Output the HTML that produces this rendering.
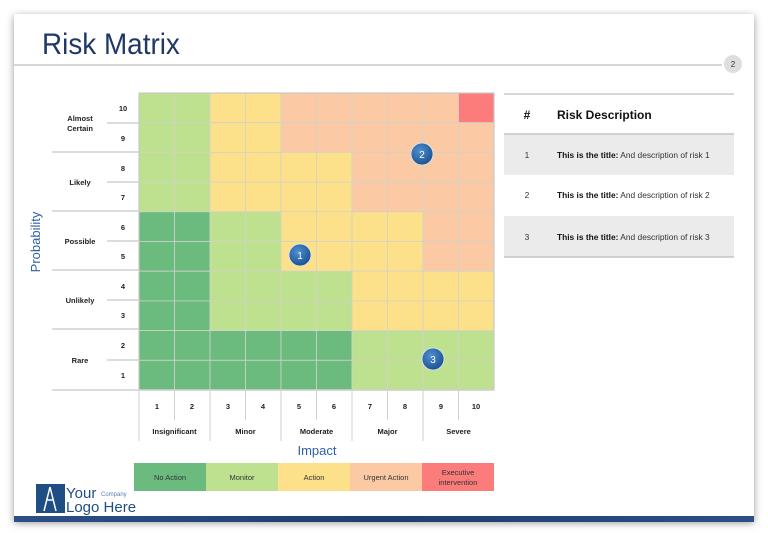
<!DOCTYPE html>
<html><head><meta charset="utf-8"><style>
body{margin:0;background:#fff;width:768px;height:533px;overflow:hidden}
svg{display:block;font-family:"Liberation Sans",sans-serif}
</style></head><body>
<svg width="768" height="533" viewBox="0 0 768 533" xmlns="http://www.w3.org/2000/svg">
<defs>
<filter id="sh" x="-5%" y="-5%" width="110%" height="110%"><feGaussianBlur stdDeviation="4"/></filter>
<radialGradient id="bg" cx="0.4" cy="0.35" r="0.7"><stop offset="0" stop-color="#4f8fd0"/><stop offset="1" stop-color="#1a4f8e"/></radialGradient>
<linearGradient id="bar" x1="0" y1="0" x2="1" y2="0"><stop offset="0" stop-color="#2c4f86"/><stop offset="0.5" stop-color="#1e3d70"/><stop offset="1" stop-color="#2c4f86"/></linearGradient>
</defs>
<rect x="0" y="0" width="768" height="533" fill="#fff"/>
<rect x="14" y="16" width="740" height="507" fill="#999" filter="url(#sh)"/>
<rect x="14" y="14" width="740" height="508" fill="#fff"/>
<rect x="14" y="516" width="740" height="6" fill="url(#bar)"/>
<text x="42" y="54" font-size="30" fill="#1f3864" transform="translate(42,0) scale(0.93,1) translate(-42,0)">Risk Matrix</text>
<line x1="14" y1="65" x2="722" y2="65" stroke="#c8c8c8" stroke-width="1.5"/>
<circle cx="733" cy="64" r="9" fill="#dedede"/>
<text x="733" y="67" font-size="8" text-anchor="middle" fill="#333">2</text>
<g id="grid"></g>
<g stroke="#d0d0d0" stroke-width="1.5">
<line x1="52" y1="152" x2="139" y2="152"/><line x1="52" y1="211" x2="139" y2="211"/>
<line x1="52" y1="270" x2="139" y2="270"/><line x1="52" y1="329" x2="139" y2="329"/>
<line x1="52" y1="390" x2="494" y2="390"/>
<line x1="107" y1="123" x2="139" y2="123"/><line x1="107" y1="182" x2="139" y2="182"/>
<line x1="107" y1="241" x2="139" y2="241"/><line x1="107" y1="300" x2="139" y2="300"/>
<line x1="107" y1="360" x2="139" y2="360"/>
</g>
<g font-size="7.5" font-weight="bold" fill="#222" text-anchor="middle">
<text x="123" y="111">10</text><text x="123" y="141">9</text><text x="123" y="171">8</text><text x="123" y="200">7</text>
<text x="123" y="230">6</text><text x="123" y="259">5</text><text x="123" y="289">4</text><text x="123" y="318">3</text>
<text x="123" y="348">2</text><text x="123" y="378">1</text>
<text x="80" y="121">Almost</text><text x="80" y="131">Certain</text>
<text x="80" y="185">Likely</text><text x="80" y="244">Possible</text><text x="80" y="303">Unlikely</text><text x="80" y="363">Rare</text>
</g>
<text transform="translate(40,242) rotate(-90)" font-size="13" fill="#2f5ea8" text-anchor="middle">Probability</text>
<g stroke="#d0d0d0" stroke-width="1">
<line x1="139" y1="390" x2="139" y2="441"/><line x1="174.5" y1="390" x2="174.5" y2="420"/>
<line x1="210" y1="390" x2="210" y2="441"/><line x1="245.5" y1="390" x2="245.5" y2="420"/>
<line x1="281" y1="390" x2="281" y2="441"/><line x1="316.5" y1="390" x2="316.5" y2="420"/>
<line x1="352" y1="390" x2="352" y2="441"/><line x1="387.5" y1="390" x2="387.5" y2="420"/>
<line x1="423" y1="390" x2="423" y2="441"/><line x1="458.5" y1="390" x2="458.5" y2="420"/>
</g>
<g font-size="7.5" font-weight="bold" fill="#222" text-anchor="middle">
<text x="157" y="409">1</text><text x="192" y="409">2</text><text x="228" y="409">3</text><text x="263" y="409">4</text>
<text x="299" y="409">5</text><text x="334" y="409">6</text><text x="370" y="409">7</text><text x="405" y="409">8</text>
<text x="441" y="409">9</text><text x="476" y="409">10</text>
<text x="174.5" y="434">Insignificant</text><text x="245.5" y="434">Minor</text><text x="316.5" y="434">Moderate</text>
<text x="387.5" y="434">Major</text><text x="458.5" y="434">Severe</text>
</g>
<text x="317" y="455" font-size="13" fill="#2f5ea8" text-anchor="middle">Impact</text>
<rect x="134" y="463" width="72" height="28" fill="#6bbb7f"/>
<rect x="206" y="463" width="72" height="28" fill="#bde18f"/>
<rect x="278" y="463" width="72" height="28" fill="#fde08a"/>
<rect x="350" y="463" width="72" height="28" fill="#fbcaa4"/>
<rect x="422" y="463" width="72" height="28" fill="#fb7c7b"/>
<g font-size="7.5" fill="#333" text-anchor="middle">
<text x="170" y="480">No Action</text><text x="242" y="480">Monitor</text><text x="314" y="480">Action</text>
<text x="386" y="480">Urgent Action</text><text x="458" y="475">Executive</text><text x="458" y="485">intervention</text>
</g>
<circle cx="300" cy="255" r="11" fill="url(#bg)" stroke="#dfe8f3" stroke-width="0.8"/><text x="300" y="259" font-size="10" fill="#fff" text-anchor="middle">1</text>
<circle cx="422" cy="154" r="11" fill="url(#bg)" stroke="#dfe8f3" stroke-width="0.8"/><text x="422" y="158" font-size="10" fill="#fff" text-anchor="middle">2</text>
<circle cx="433" cy="359" r="11" fill="url(#bg)" stroke="#dfe8f3" stroke-width="0.8"/><text x="433" y="363" font-size="10" fill="#fff" text-anchor="middle">3</text>
<line x1="504" y1="94" x2="734" y2="94" stroke="#ccc" stroke-width="1.5"/>
<text x="527" y="119" font-size="12" font-weight="bold" fill="#111" text-anchor="middle">#</text>
<text x="557" y="119" font-size="12" font-weight="bold" fill="#111">Risk  Description</text>
<rect x="504" y="134" width="230" height="41" fill="#ebebeb"/>
<rect x="504" y="216" width="230" height="41" fill="#ebebeb"/>
<line x1="504" y1="134" x2="734" y2="134" stroke="#c4c4c4" stroke-width="1.5"/>
<line x1="504" y1="257" x2="734" y2="257" stroke="#c4c4c4" stroke-width="1.5"/>
<g font-size="8.4" fill="#333">
<text x="527" y="158" text-anchor="middle">1</text><text x="557" y="158"><tspan font-weight="bold" fill="#111">This is the title:</tspan> And description of risk 1</text>
<text x="527" y="198" text-anchor="middle">2</text><text x="557" y="198"><tspan font-weight="bold" fill="#111">This is the title:</tspan> And description of risk 2</text>
<text x="527" y="240" text-anchor="middle">3</text><text x="557" y="240"><tspan font-weight="bold" fill="#111">This is the title:</tspan> And description of risk 3</text>
</g>
<rect x="36" y="484" width="29" height="29" fill="#1f4e85"/>
<path d="M50 487 L44 511 M50 487 L56 511 M46 500 L54 500" stroke="#fff" stroke-width="1.5" fill="none"/>
<text x="66" y="498" font-size="15" fill="#1f4e85">Your</text>
<text x="101" y="496" font-size="6" fill="#5a7fb0">Company</text>
<text x="66" y="512" font-size="15" fill="#1f4e85">Logo Here</text>
</svg>
<script>
(function(){
var C={d:"#6bbb7f",l:"#bde18f",y:"#fde08a",p:"#fbcaa4",r:"#fb7c7b"};
var rows=["llyypppppr","llyypppppp","llyyyypppp","llyyyypppp","ddllyyyypp","ddllyyyypp","ddllllyyyy","ddllllyyyy","ddddddllll","ddddddllll"];
var g=document.getElementById("grid"),ns="http://www.w3.org/2000/svg";
var x0=139,y0=93,cw=35.5,ch=29.7;
for(var r=0;r<10;r++)for(var c=0;c<10;c++){var e=document.createElementNS(ns,"rect");
e.setAttribute("x",x0+c*cw);e.setAttribute("y",y0+r*ch);e.setAttribute("width",cw);e.setAttribute("height",ch);
e.setAttribute("fill",C[rows[r][c]]);e.setAttribute("stroke","#d2d2c8");e.setAttribute("stroke-width","0.8");g.appendChild(e);}
var b=document.createElementNS(ns,"rect");b.setAttribute("x",x0);b.setAttribute("y",y0);b.setAttribute("width",355);b.setAttribute("height",297);b.setAttribute("fill","none");b.setAttribute("stroke","#c8c8c8");b.setAttribute("stroke-width","1.2");g.appendChild(b);
})();
</script>
</body></html>
